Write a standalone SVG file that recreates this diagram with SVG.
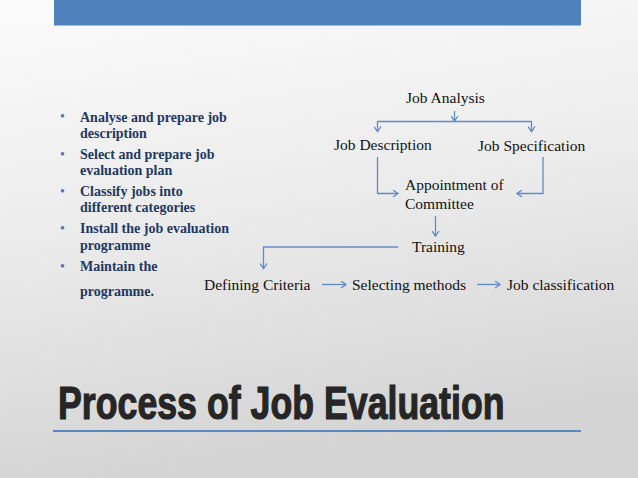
<svg xmlns="http://www.w3.org/2000/svg" width="638" height="478" viewBox="0 0 638 478">
<defs>
<linearGradient id="bg" x1="0" y1="0" x2="0.2" y2="1">
<stop offset="0" stop-color="#fbfbfb"/>
<stop offset="0.5" stop-color="#ebebeb"/>
<stop offset="1" stop-color="#d4d4d4"/>
</linearGradient>
<marker id="ah" markerWidth="8" markerHeight="8" refX="6" refY="4" orient="auto" markerUnits="userSpaceOnUse">
<path d="M1,0.5 L6,4 L1,7.5" fill="none" stroke="#5f8cc4" stroke-width="1.3"/>
</marker>
<style>
.ft{font-family:"Liberation Serif","Times New Roman",serif;font-size:15.5px;fill:#111}
.bt{font-family:"Liberation Serif","Times New Roman",serif;font-size:14px;font-weight:bold;fill:#1f3864}
.bu{font-family:"Liberation Serif",serif;font-size:14px;fill:#4f74a8}
.c{fill:none;stroke:#5f8cc4;stroke-width:1.3}
.ca{fill:none;stroke:#5f8cc4;stroke-width:1.3;marker-end:url(#ah)}
</style>
</defs>
<rect width="638" height="478" fill="url(#bg)"/>
<rect x="54" y="0" width="527" height="25.5" fill="#4f81bd"/>
<g id="bullets">
<text class="bu" x="60" y="121">•</text>
<text class="bt" x="80" y="121.5">Analyse and prepare job</text>
<text class="bt" x="80" y="137.5">description</text>
<text class="bu" x="60" y="159">•</text>
<text class="bt" x="80" y="159">Select and prepare job</text>
<text class="bt" x="80" y="175">evaluation plan</text>
<text class="bu" x="60" y="196">•</text>
<text class="bt" x="80" y="196">Classify jobs into</text>
<text class="bt" x="80" y="212">different categories</text>
<text class="bu" x="60" y="233">•</text>
<text class="bt" x="80" y="233">Install the job evaluation</text>
<text class="bt" x="80" y="250">programme</text>
<text class="bu" x="60" y="271">•</text>
<text class="bt" x="80" y="271">Maintain the</text>
<text class="bt" x="80" y="296">programme.</text>
</g>
<g id="connectors">
<line class="ca" x1="454.5" y1="111" x2="454.5" y2="121"/>
<line class="c" x1="377.5" y1="121.5" x2="531.5" y2="121.5"/>
<line class="ca" x1="377.5" y1="121" x2="377.5" y2="131.5"/>
<line class="ca" x1="531.5" y1="121" x2="531.5" y2="131.5"/>
<polyline class="ca" points="377.5,157 377.5,193.5 398,193.5"/>
<polyline class="ca" points="543,157 543,193.5 517,193.5"/>
<line class="ca" x1="435.5" y1="216" x2="435.5" y2="236"/>
<polyline class="ca" points="398,247 263.5,247 263.5,268.5"/>
<line class="ca" x1="322" y1="284.5" x2="346" y2="284.5"/>
<line class="ca" x1="477" y1="284.5" x2="500" y2="284.5"/>
</g>
<g id="n-job-analysis"><text class="ft" x="406" y="103">Job Analysis</text></g>
<g id="n-job-description"><text class="ft" x="334" y="150">Job Description</text></g>
<g id="n-job-specification"><text class="ft" x="478" y="151">Job Specification</text></g>
<g id="n-appointment"><text class="ft" x="405" y="190">Appointment of</text><text class="ft" x="405" y="209">Committee</text></g>
<g id="n-training"><text class="ft" x="412" y="252">Training</text></g>
<g id="n-defining"><text class="ft" x="204" y="290">Defining Criteria</text></g>
<g id="n-selecting"><text class="ft" x="352" y="290">Selecting methods</text></g>
<g id="n-classification"><text class="ft" x="507" y="290">Job classification</text></g>
<text transform="translate(58,419) scale(0.76,1)" x="0" y="0" font-family="'Liberation Sans',Arial,sans-serif" font-weight="bold" font-size="47" fill="#262626" stroke="#262626" stroke-width="1.2">Process of Job Evaluation</text>
<line x1="53" y1="431" x2="581" y2="431" stroke="#5b87bf" stroke-width="2"/>
</svg>
